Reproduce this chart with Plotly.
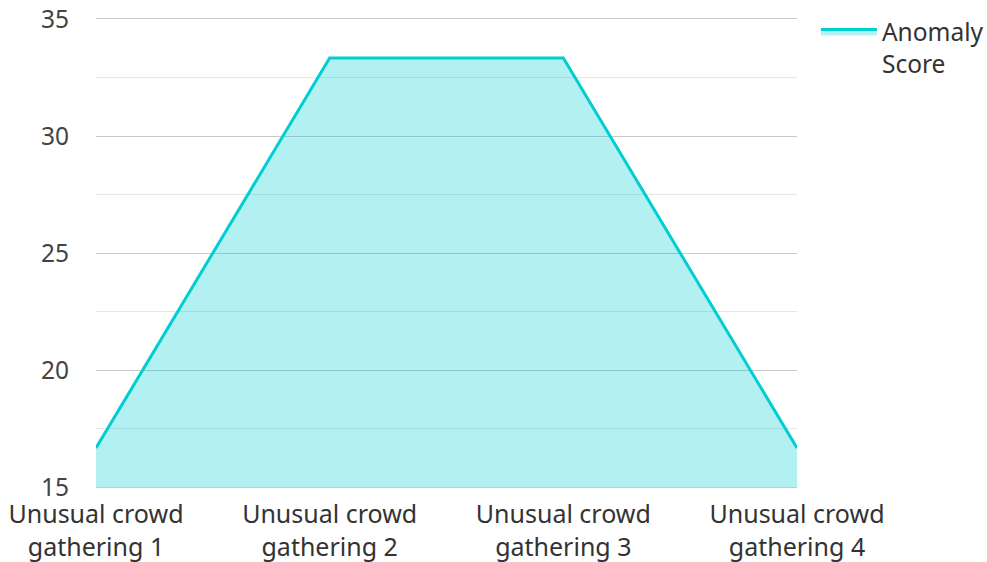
import plotly.graph_objects as go

categories = ["Unusual crowd<br>gathering 1", "Unusual crowd<br>gathering 2",
              "Unusual crowd<br>gathering 3", "Unusual crowd<br>gathering 4"]
anomaly_score = [16.67, 33.33, 33.33, 16.67]
series_name = "Anomaly<br>Score"

fig = go.Figure()
fig.add_trace(go.Scatter(
    x=list(range(len(categories))), y=anomaly_score, name=series_name,
    mode="lines", fill="tozeroy",
    line=dict(color="#00CED1", width=3),
    fillcolor="rgba(0,206,209,0.3)",
))

fig.update_layout(
    width=987, height=562,
    margin=dict(l=96, r=190, t=19, b=75, autoexpand=False),
    plot_bgcolor="white", paper_bgcolor="white",
    font=dict(family="Noto Sans", size=24.5, color="#444"),
    showlegend=True,
    legend=dict(x=1.027, y=1.021, xanchor="left", yanchor="top", valign="top",
                itemwidth=56,
                font=dict(size=24.5, color="#333"), bgcolor="rgba(0,0,0,0)"),
    xaxis=dict(
        range=[0, 3], tickmode="array", tickvals=list(range(len(categories))),
        ticktext=categories, showgrid=False, zeroline=False,
        showline=True, mirror=True, linecolor="#c8c8c8", linewidth=1,
        ticks="", ticklabelstandoff=5, ticklabeloverflow="allow",
        tickfont=dict(size=25, color="#333"), automargin=False,
    ),
    yaxis=dict(
        range=[15, 35], tickmode="linear", tick0=15, dtick=5,
        showgrid=True, gridcolor="#c8c8c8", gridwidth=1,
        zeroline=False, showline=False, ticks="",
        ticklabelstandoff=26, automargin=False, ticklabeloverflow="allow",
        tickfont=dict(size=24.5, color="#444"),
        minor=dict(tick0=15, dtick=2.5, showgrid=True, gridcolor="#e6e6e6", gridwidth=1),
    ),
)

fig.write_html("out.html", config={"displayModeBar": False},
               post_script="document.body.style.margin='0';")
